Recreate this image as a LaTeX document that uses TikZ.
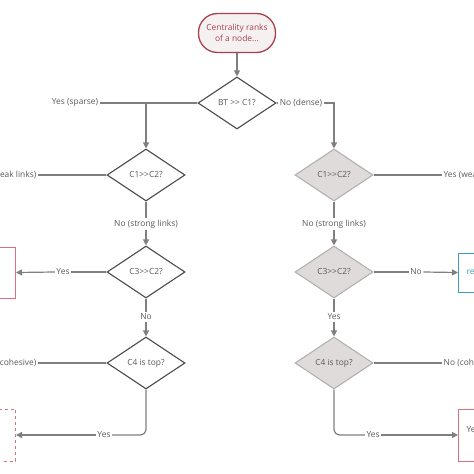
\documentclass[tikz,border=0pt]{standalone}
\usepackage{fontspec}
\setmainfont{Open Sans}
\usetikzlibrary{shapes.geometric, arrows.meta, positioning}
\definecolor{lgray}{HTML}{7F7F7F}
\definecolor{dgray}{HTML}{4A4A4A}
\definecolor{tgray}{HTML}{5A5A5A}
\definecolor{sfill}{HTML}{F5F1F1}
\definecolor{sred}{HTML}{A8414F}
\definecolor{bred}{HTML}{D9707D}
\definecolor{teal}{HTML}{3D9DB3}
\definecolor{gfill}{HTML}{DFDBDB}
\definecolor{gline}{HTML}{B5B0B0}
\tikzset{
    ques/.style={diamond, draw=dgray, line width=1.1pt, fill=white, minimum width=78pt, minimum height=52pt, inner sep=0pt, text=tgray},
    gques/.style={ques, draw=gline, fill=gfill},
    lbl/.style={fill=white, inner sep=1.5pt, text=tgray},
    ln/.style={draw=lgray, line width=1.2pt},
    arr/.style={ln, -{Triangle[length=6pt, width=6pt]}},
    outbox/.style={draw=bred, line width=1pt, fill=white, text width=44pt, inner xsep=8pt, align=left, text=tgray}
}
\begin{document}
\begin{tikzpicture}[x=1pt, y=-1pt, font=\fontsize{8.4}{10.5}\selectfont]
    \useasboundingbox (0,0) rectangle (474,474);
    \clip (0,0) rectangle (474,474);

    \node[draw=sred, line width=1.3pt, fill=sfill, rounded corners=19pt, minimum width=77pt, minimum height=39pt, inner sep=1pt, align=center, text=sred] (start) at (237,33) {Centrality ranks\\of a node...};
    \node[ques] (bt) at (237,103) {BT {>}{>} C1?};

    \node[ques] (c1l) at (146,175) {C1{>}{>}C2?};
    \node[ques] (c3l) at (146,272) {C3{>}{>}C2?};
    \node[ques] (c4l) at (146,363) {C4 is top?};

    \node[gques] (c1r) at (334,175) {C1{>}{>}C2?};
    \node[gques] (c3r) at (334,272) {C3{>}{>}C2?};
    \node[gques] (c4r) at (334,363) {C4 is top?};

    % end boxes, cut by the frame
    \node[outbox, anchor=east, minimum height=51pt] (resl) at (16,272.5) {};
    \node[outbox, dashed, anchor=east, minimum height=52pt] (topl) at (16,435) {};
    \node[outbox, draw=teal, anchor=west, minimum height=39pt, text=teal] (resr) at (458,272.5) {\raisebox{-6pt}{report}};
    \node[outbox, anchor=west, minimum height=52pt] (topr) at (458,435) {\raisebox{12pt}{Yes}};

    % labels on the lines
    \node[lbl] (ysp) at (75,103) {Yes (sparse)};
    \node[lbl] (nde) at (301,103) {No (dense)};
    \node[lbl, anchor=east] (ywl) at (38,175) {Yes (weak links)};
    \node[lbl, anchor=west] (ywr) at (442,175) {Yes (weak links)};
    \node[lbl] (nsl) at (146,224) {No (strong links)};
    \node[lbl] (nsr) at (334,224) {No (strong links)};
    \node[lbl] (y3l) at (63,272) {Yes};
    \node[lbl] (n3r) at (416,272) {No};
    \node[lbl] (n4l) at (146,317) {No};
    \node[lbl] (y4r) at (334,317) {Yes};
    \node[lbl, anchor=east] (ncl) at (38,363) {No (cohesive)};
    \node[lbl, anchor=west] (ncr) at (442,363) {No (cohesive)};
    \node[lbl] (ytl) at (104,435) {Yes};
    \node[lbl] (ytr) at (373,435) {Yes};

    \draw[arr] (start) -- (bt);

    \draw[ln] (bt.west) -- (ysp.east);
    \draw[arr] (bt.west -| c1l.north) -- (c1l.north);
    \draw[ln] (bt.east) -- (nde.west);
    \draw[arr] (nde.east) -| (c1r.north);

    \draw[ln] (c1l.west) -- (ywl.east);
    \draw[ln] (c1l.south) -- (nsl.north);
    \draw[arr] (nsl.south) -- (c3l.north);
    \draw[ln] (c3l.west) -- (y3l.east);
    \draw[arr] (y3l.west) -- (resl.east);
    \draw[ln] (c3l.south) -- (n4l.north);
    \draw[arr] (n4l.south) -- (c4l.north);
    \draw[ln] (c4l.west) -- (ncl.east);
    \draw[ln, rounded corners=6pt] (c4l.south) |- (ytl.east);
    \draw[arr] (ytl.west) -- (topl.east);

    \draw[ln] (c1r.east) -- (ywr.west);
    \draw[ln] (c1r.south) -- (nsr.north);
    \draw[arr] (nsr.south) -- (c3r.north);
    \draw[ln] (c3r.east) -- (n3r.west);
    \draw[arr] (n3r.east) -- (resr.west);
    \draw[ln] (c3r.south) -- (y4r.north);
    \draw[arr] (y4r.south) -- (c4r.north);
    \draw[ln] (c4r.east) -- (ncr.west);
    \draw[ln, rounded corners=6pt] (c4r.south) |- (ytr.west);
    \draw[arr] (ytr.east) -- (topr.west);
\end{tikzpicture}
\end{document}
